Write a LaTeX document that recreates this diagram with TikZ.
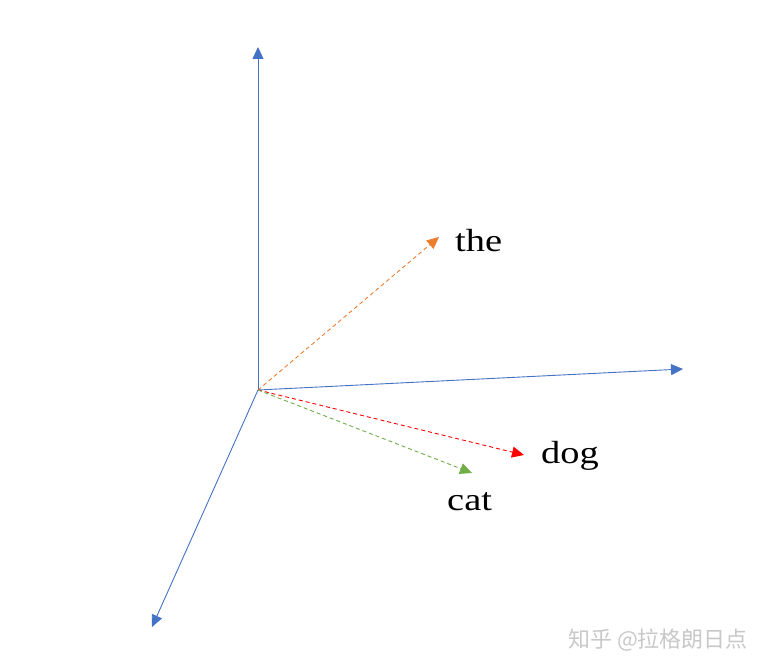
\documentclass[tikz,border=0pt]{standalone}
\usepackage{fontspec}
\setmainfont{Liberation Serif}
\newfontfamily\wordfont[FakeStretch=1.2]{Liberation Serif}
\newfontfamily\cjk{Noto Sans CJK SC}
\usetikzlibrary{arrows.meta}
\definecolor{axisblue}{HTML}{4472C4}
\definecolor{theorange}{HTML}{ED7D31}
\definecolor{dogred}{HTML}{FF0000}
\definecolor{catgreen}{HTML}{70AD47}
\definecolor{markgray}{HTML}{C8C8C8}
\tikzset{axisline/.style={axisblue,line width=0.9pt,-{Triangle[length=12pt,width=11pt]}}}
\tikzset{vec/.style={line width=0.9pt,dash pattern=on 4pt off 3pt,-{Triangle[length=12pt,width=11pt]}}}
\tikzset{word/.style={anchor=base west,inner sep=0pt,font=\wordfont\fontsize{32}{32}\selectfont}}

\begin{document}
\begin{tikzpicture}[x=1pt,y=-1pt]
    \useasboundingbox (0,0) rectangle (772,671);

    \coordinate (o) at (258,390);
    \coordinate (ax1) at (258,47);
    \coordinate (ax2) at (683,369);
    \coordinate (ax3) at (152,627);

    \coordinate (the) at (439,237);
    \coordinate (dog) at (524,455);
    \coordinate (cat) at (472,473);

    \node[word] (thelbl) at (455,252) {the};
    \node[word] (doglbl) at (541,464) {dog};
    \node[word] (catlbl) at (447,510) {cat};

    \node[anchor=center,text=markgray,font=\cjk\fontsize{22}{22}\selectfont] (zhihu) at (658,640)
    {知乎 @拉格朗日点};

    \draw[axisline] (o) -- (ax1);
    \draw[axisline] (o) -- (ax2);
    \draw[axisline] (o) -- (ax3);

    \draw[vec,theorange] (o) -- (the);
    \draw[vec,dogred] (o) -- (dog);
    \draw[vec,catgreen] (o) -- (cat);

  \end{tikzpicture}
\end{document}
